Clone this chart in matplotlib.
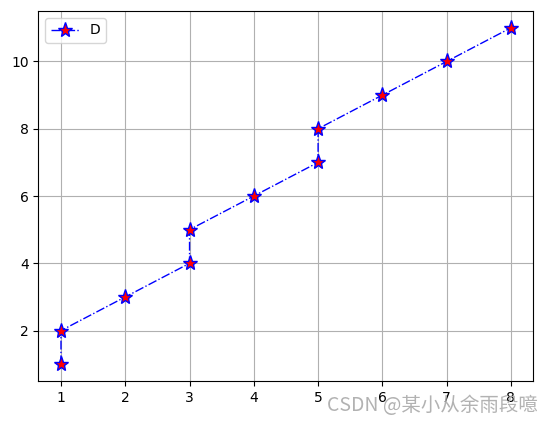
import matplotlib.pyplot as plt

x = [1, 1, 2, 3, 3, 4, 5, 5, 6, 7, 8]
y = [1, 2, 3, 4, 5, 6, 7, 8, 9, 10, 11]

plt.rcParams['font.family'] = ['DejaVu Sans', 'Noto Sans CJK SC']

fig = plt.figure(figsize=(5.53, 4.22), dpi=100)
ax = fig.add_axes([0.0696, 0.097, 0.895, 0.877])
ax.plot(x, y, color='b', linestyle='-.', linewidth=1, marker='*',
        markersize=11, markerfacecolor='r', markeredgecolor='b', label='D')
ax.grid(True)
ax.legend(loc='upper left')

fig.text(0.973, 0.04, 'CSDN @某小从余雨段噫', ha='right', va='center',
         fontsize=14, color='#aaaaaa', alpha=0.9,
         family=['Noto Sans CJK SC', 'DejaVu Sans'])

fig.savefig('out.png', dpi=100)
